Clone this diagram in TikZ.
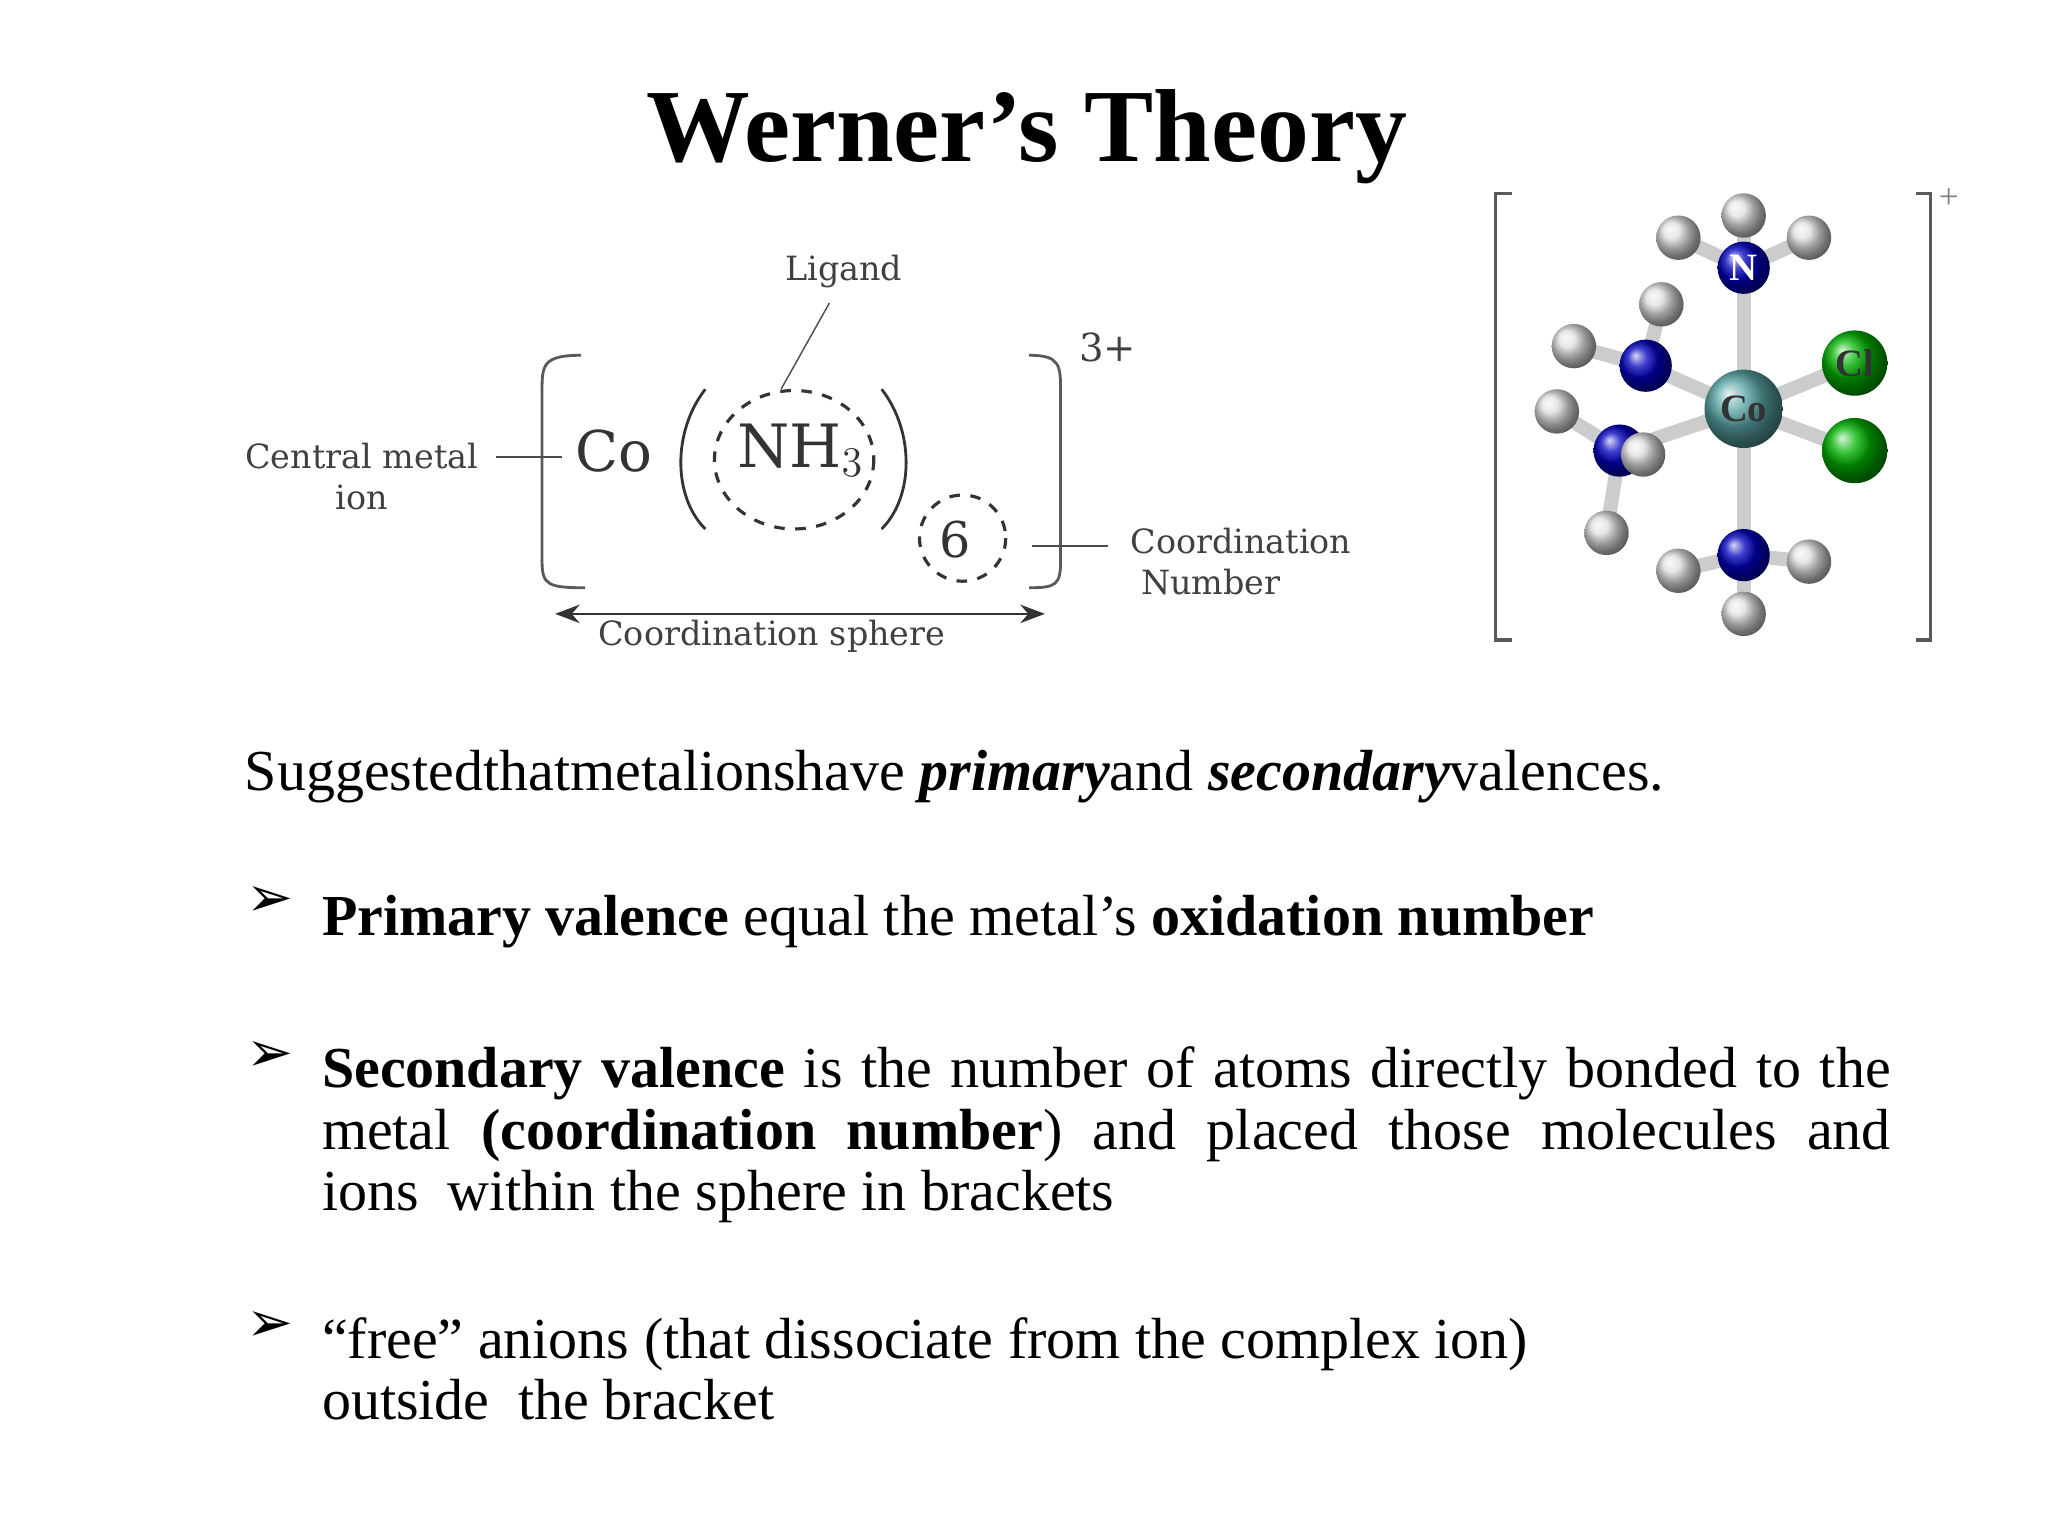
\documentclass[tikz,border=0pt]{standalone}
\usepackage{fontspec}
\setmainfont{Liberation Serif}
\newfontfamily\djsans{DejaVu Sans}
\newfontfamily\dserif{DejaVu Serif}
\usetikzlibrary{arrows.meta}
\begin{document}
\begin{tikzpicture}[x=0.01306cm,y=-0.01306cm,
  lab/.style={font=\dserif\fontsize{9.5}{11.5}\selectfont,text=black!75,align=center},
  body/.style={font=\fontsize{16.5}{18}\selectfont,anchor=base west,inner sep=0},
  bul/.style={font=\djsans\bfseries\fontsize{16}{16}\selectfont,anchor=base west,inner sep=0},
  hat/.style={ball color=gray!25,draw=none},
  nat/.style={ball color=blue!75!black,draw=none},
  clat/.style={ball color=green!70!black,draw=none},
  bond/.style={line width=4pt,gray!40}]
\useasboundingbox (0,0) rectangle (1568,1176);
\fill[white] (0,0) rectangle (1568,1176);
\node[font=\bfseries\fontsize{29.5}{32}\selectfont] (title) at (786,105) {Werner’s Theory};

% left diagram
\draw[gray!70!black,line width=0.8pt] (445,272) .. controls (415,272) and (415,280) .. (415,300) -- (415,430) .. controls (415,448) and (420,450) .. (448,450);
\draw[gray!70!black,line width=0.8pt] (788,272) .. controls (812,272) and (812,280) .. (812,300) -- (812,430) .. controls (812,448) and (808,450) .. (788,450);
\node[font=\dserif\fontsize{16}{16}\selectfont,text=black!80] (co) at (470,345) {Co};
\node[font=\dserif\fontsize{17}{17}\selectfont,text=black!80] (nh) at (613,345) {NH$_3$};
\draw[black!80,line width=0.8pt] (540,298) .. controls (515,330) and (515,380) .. (540,405);
\draw[black!80,line width=0.8pt] (675,298) .. controls (700,330) and (700,380) .. (675,405);
\draw[black!80,dashed,line width=0.9pt] (608,352) ellipse [x radius=61,y radius=53];
\draw[black!80,dashed,line width=0.9pt] (737,412) circle [radius=33];
\node[font=\dserif\fontsize{14}{14}\selectfont,text=black!80] (six) at (731,413) {6};
\node[lab,font=\dserif\fontsize{11}{12}\selectfont] (tp) at (848,266) {3+};
\node[lab] (lig) at (646,208) {Ligand};
\draw[black!70] (635,232) -- (598,298);
\node[lab] (cmi) at (277,365) {Central metal\\ion};
\draw[black!70] (380,350) -- (430,350);
\node[lab,align=left,anchor=west] (cn) at (856,430) {Coordination\\\ Number};
\draw[black!70] (790,418) -- (848,418);
\coordinate (a1) at (425,470); \coordinate (a2) at (800,470);
\draw[black!80,{Stealth[length=7pt]}-{Stealth[length=7pt]}] (a1) -- (a2);
\node[lab] (cs) at (591,487) {Coordination sphere};

% molecule
\draw[gray!70!black,line width=1pt] (1158,148) -- (1145,148) -- (1145,490) -- (1158,490);
\draw[gray!70!black,line width=1pt] (1467,148) -- (1478,148) -- (1478,490) -- (1467,490);
\node[font=\fontsize{10}{10}\selectfont,text=gray] (plus) at (1492,152) {+};
\coordinate (Co) at (1335,313);
\coordinate (N1) at (1335,205); \coordinate (N2) at (1335,425);
\coordinate (N3) at (1260,280); \coordinate (N4) at (1240,345);
\coordinate (C1) at (1420,278); \coordinate (C2) at (1420,345);
\foreach \p in {N1,N2,N3,N4,C1,C2} \draw[bond] (Co) -- (\p);
\draw[bond] (N1) -- (1335,165); \draw[bond] (N1) -- (1285,182); \draw[bond] (N1) -- (1385,182);
\draw[bond] (N2) -- (1335,470); \draw[bond] (N2) -- (1285,437); \draw[bond] (N2) -- (1385,430);
\draw[bond] (N3) -- (1272,233); \draw[bond] (N3) -- (1205,265);
\draw[bond] (N4) -- (1192,315); \draw[bond] (N4) -- (1230,408); \draw[bond] (N4) -- (1258,348);
\foreach \p in {(1335,165),(1285,182),(1385,182),(1335,470),(1285,437),(1385,430),(1272,233),(1205,265),(1192,315),(1230,408)} \shade[hat] \p circle [radius=17];
\shade[ball color=cyan!30!gray] (Co) circle [radius=30];
\shade[nat] (N1) circle [radius=20]; \shade[nat] (N2) circle [radius=20];
\shade[nat] (N3) circle [radius=20]; \shade[nat] (N4) circle [radius=20];
\shade[hat] (1258,348) circle [radius=17];
\shade[clat] (C1) circle [radius=25]; \shade[clat] (C2) circle [radius=25];
\node[font=\bfseries\fontsize{11}{11}\selectfont,text=white] (nl) at (N1) {N};
\node[font=\bfseries\fontsize{11}{11}\selectfont,text=black!80] (col) at (Co) {Co};
\node[font=\bfseries\fontsize{11}{11}\selectfont,text=black!80] (cll) at (C1) {Cl};

% text
\node[body] (s) at (187,605) {Suggestedthatmetalionshave \textbf{\textit{primary}}and \textbf{\textit{secondary}}valences.};
\node[bul] (b1) at (188,702) {➢};
\node[body] (t1) at (246,716) {\textbf{Primary valence} equal the metal’s \textbf{oxidation number}};
\node[bul] (b2) at (188,820) {➢};
\node[body,text width=1201*0.01306cm,align=justify,anchor=north west,font=\fontsize{16.5}{17.5}\selectfont] (t2) at (246,801) {\textbf{Secondary valence} is the number of atoms directly bonded to the\linebreak metal \textbf{(coordination number}) and placed those molecules and\linebreak ions\ \ within the sphere in brackets};
\node[bul] (b3) at (188,1027) {➢};
\node[body,align=left,anchor=north west,font=\fontsize{16.5}{17.5}\selectfont] (t3) at (246,1008) {“free” anions (that dissociate from the complex ion)\\outside\ \ the bracket};
\end{tikzpicture}
\end{document}
